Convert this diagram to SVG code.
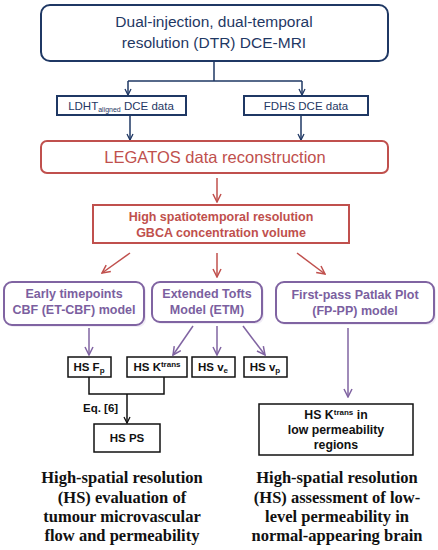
<svg xmlns="http://www.w3.org/2000/svg" width="438" height="550" viewBox="0 0 438 550">
<defs>
<style>
.sans{font-family:"Liberation Sans",Arial,sans-serif}
.navy{fill:none;stroke:#1f3864;stroke-width:2}
.navyt{fill:#1f3864}
.red{fill:#fff;stroke:#c0504d;stroke-width:2}
.redt{fill:#c0504d}
.pur{fill:#fff;stroke:#8064a2;stroke-width:2}
.purt{fill:#7b5fa0;font-weight:bold}
.blk{fill:#fff;stroke:#111;stroke-width:1.5}
.blkt{fill:#111;font-weight:bold}
.serif{font-family:"Liberation Serif","Times New Roman",serif;font-weight:bold;font-size:16.5px;fill:#111}
.cn{fill:none;stroke-width:1.5}
</style>
<marker id="an" markerWidth="8" markerHeight="8" refX="7" refY="4" orient="auto" markerUnits="userSpaceOnUse"><path d="M1,1 L7,4 L1,7" fill="none" stroke="#1f3864" stroke-width="1.3"/></marker>
<marker id="ar" markerWidth="10" markerHeight="10" refX="9" refY="5" orient="auto" markerUnits="userSpaceOnUse"><path d="M1,1 L9,5 L1,9" fill="none" stroke="#c0504d" stroke-width="1.5"/></marker>
<marker id="ap" markerWidth="10" markerHeight="10" refX="9" refY="5" orient="auto" markerUnits="userSpaceOnUse"><path d="M1,1 L9,5 L1,9" fill="none" stroke="#8064a2" stroke-width="1.5"/></marker>
<marker id="ak" markerWidth="8" markerHeight="8" refX="7" refY="4" orient="auto" markerUnits="userSpaceOnUse"><path d="M1,1 L7,4 L1,7" fill="none" stroke="#111" stroke-width="1.3"/></marker>
</defs>
<rect width="438" height="550" fill="#fff"/>
<g id="connectors">
<path class="cn" stroke="#1f3864" d="M214,61 V81 M128,81 H302"/>
<path class="cn" stroke="#1f3864" d="M128,81 V95" marker-end="url(#an)"/>
<path class="cn" stroke="#1f3864" d="M302,81 V95" marker-end="url(#an)"/>
<path class="cn" stroke="#1f3864" d="M130,115 V140" marker-end="url(#an)"/>
<path class="cn" stroke="#1f3864" d="M301,115 V140" marker-end="url(#an)"/>
<path class="cn" stroke="#c0504d" d="M217,178 V202" marker-end="url(#ar)"/>
<path class="cn" stroke="#c0504d" d="M130,253 L102,273" marker-end="url(#ar)"/>
<path class="cn" stroke="#c0504d" d="M217,253 V277" marker-end="url(#ar)"/>
<path class="cn" stroke="#c0504d" d="M297,253 L325,274" marker-end="url(#ar)"/>
<path class="cn" stroke="#8064a2" d="M89,328 V355" marker-end="url(#ap)"/>
<path class="cn" stroke="#8064a2" d="M193,326 L173,355" marker-end="url(#ap)"/>
<path class="cn" stroke="#8064a2" d="M217,326 V355" marker-end="url(#ap)"/>
<path class="cn" stroke="#8064a2" d="M243,326 L265,355" marker-end="url(#ap)"/>
<path class="cn" stroke="#8064a2" d="M348,328 V397" marker-end="url(#ap)"/>
<path class="cn" stroke="#111" d="M89,377 V394 H164 V377"/>
<path class="cn" stroke="#111" d="M127,394 V423" marker-end="url(#ak)"/>
</g>
<g id="dtr">
<rect class="navy" x="41" y="5" width="347" height="56" rx="9"/>
<text class="sans navyt" font-size="15.5" text-anchor="middle"><tspan x="214" y="27">Dual-injection, dual-temporal</tspan><tspan x="214" y="48">resolution (DTR) DCE-MRI</tspan></text>
</g>
<g id="ldht">
<rect class="navy" x="57" y="96" width="129" height="19" stroke-width="1.5"/>
<text class="sans navyt" font-size="11.5" text-anchor="middle" x="121" y="110">LDHT<tspan font-size="7" dy="2">aligned</tspan><tspan dy="-2"> DCE data</tspan></text>
</g>
<g id="fdhs">
<rect class="navy" x="244" y="96" width="124" height="19" stroke-width="1.5"/>
<text class="sans navyt" font-size="11.5" text-anchor="middle" x="306" y="110">FDHS DCE data</text>
</g>
<g id="legatos">
<rect class="red" x="41" y="141" width="347" height="32" rx="6"/>
<text class="sans redt" font-size="16.5" text-anchor="middle" x="215" y="163">LEGATOS data reconstruction</text>
</g>
<g id="gbca">
<rect class="red" x="93" y="205" width="256" height="38"/>
<text class="sans redt" font-size="12.5" font-weight="bold" text-anchor="middle"><tspan x="221" y="221">High spatiotemporal resolution</tspan><tspan x="221" y="237">GBCA concentration volume</tspan></text>
</g>
<g id="etcbf">
<rect x="6" y="284" width="140" height="43" rx="8" fill="#e6e0ee" opacity="0.6"/>
<rect class="pur" x="4" y="282" width="140" height="43" rx="8"/>
<text class="sans purt" font-size="12.5" text-anchor="middle"><tspan x="74" y="298">Early timepoints</tspan><tspan x="74" y="314">CBF (ET-CBF) model</tspan></text>
</g>
<g id="etm">
<rect x="154" y="284" width="110" height="40" rx="8" fill="#e6e0ee" opacity="0.6"/>
<rect class="pur" x="152" y="282" width="110" height="40" rx="8"/>
<text class="sans purt" font-size="12.5" text-anchor="middle"><tspan x="207" y="298">Extended Tofts</tspan><tspan x="207" y="314">Model (ETM)</tspan></text>
</g>
<g id="fppp">
<rect x="278" y="284" width="158" height="41" rx="8" fill="#e6e0ee" opacity="0.6"/>
<rect class="pur" x="276" y="282" width="158" height="41" rx="8"/>
<text class="sans purt" font-size="12.5" text-anchor="middle"><tspan x="355" y="299">First-pass Patlak Plot</tspan><tspan x="355" y="315">(FP-PP) model</tspan></text>
</g>
<g id="hsfp">
<rect class="blk" x="68" y="357" width="43" height="20"/>
<text class="sans blkt" font-size="11.5" text-anchor="middle" x="89" y="371">HS F<tspan font-size="8" dy="2">p</tspan></text>
</g>
<g id="hsktrans">
<rect class="blk" x="127" y="357" width="60" height="20"/>
<text class="sans blkt" font-size="11.5" text-anchor="middle" x="157" y="371">HS K<tspan font-size="8" dy="-4">trans</tspan></text>
</g>
<g id="hsve">
<rect class="blk" x="192" y="357" width="43" height="20"/>
<text class="sans blkt" font-size="11.5" text-anchor="middle" x="213" y="371">HS v<tspan font-size="8" dy="2">e</tspan></text>
</g>
<g id="hsvp">
<rect class="blk" x="244" y="357" width="43" height="20"/>
<text class="sans blkt" font-size="11.5" text-anchor="middle" x="265" y="371">HS v<tspan font-size="8" dy="2">p</tspan></text>
</g>
<text class="sans blkt" font-size="11.5" x="83" y="412">Eq. [6]</text>
<g id="hsps">
<rect class="blk" x="94" y="424" width="66" height="28"/>
<text class="sans blkt" font-size="11.5" text-anchor="middle" x="127" y="442">HS PS</text>
</g>
<g id="hsklow">
<rect class="blk" x="259" y="404" width="154" height="51"/>
<text class="sans blkt" font-size="12.3" text-anchor="middle"><tspan x="336" y="419">HS K<tspan font-size="8" dy="-4">trans</tspan><tspan dy="4"> in</tspan></tspan><tspan x="336" y="434">low permeability</tspan><tspan x="336" y="449">regions</tspan></text>
</g>
<text class="serif" text-anchor="middle"><tspan x="122" y="483">High-spatial resolution</tspan><tspan x="122" y="503">(HS) evaluation of</tspan><tspan x="122" y="522">tumour microvascular</tspan><tspan x="122" y="541">flow and permeability</tspan></text>
<text class="serif" text-anchor="middle"><tspan x="337" y="483">High-spatial resolution</tspan><tspan x="337" y="503">(HS) assessment of low-</tspan><tspan x="337" y="522">level permeability in</tspan><tspan x="337" y="541">normal-appearing brain</tspan></text>
</svg>
